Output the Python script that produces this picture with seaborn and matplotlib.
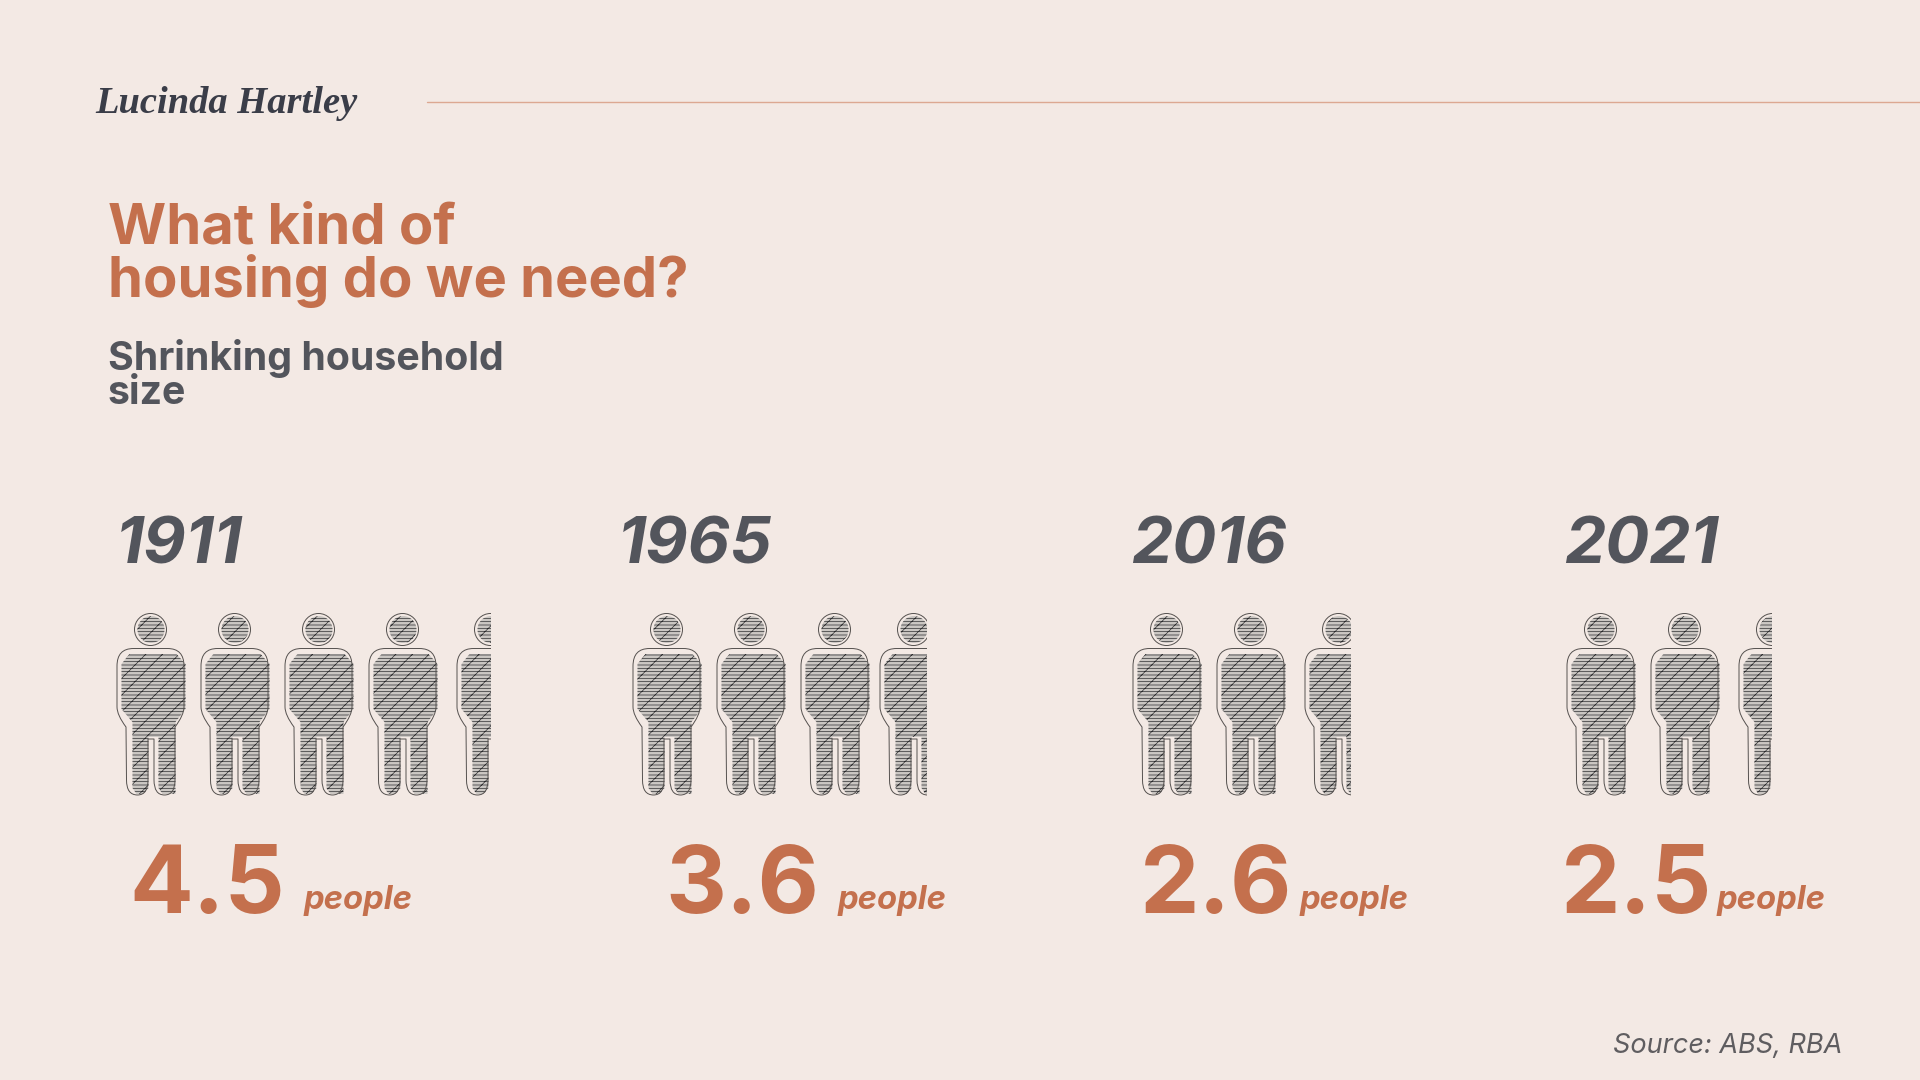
"""Shrinking household size pictogram slide."""

import matplotlib
matplotlib.use("Agg")

import matplotlib.pyplot as plt
import numpy as np
import pandas as pd
import seaborn as sns
from matplotlib.path import Path

# Data
years = ["1911", "1965", "2016", "2021"]
household_size = [4.5, 3.6, 2.6, 2.5]
unit_label = "people"
logo_text = "Lucinda Hartley"
title_text = "What kind of\nhousing do we need?"
subtitle_text = "Shrinking household\nsize"
source_text = "Source: ABS, RBA"

# Colours
BG = "#f3e9e4"
ACCENT = "#c4704d"
SLATE = "#53555c"
INK = "#3a3d48"
RULE = "#dca892"

# Layout, in pixels of the 1920x1080 canvas
W, H = 1920, 1080
PITCH = 84
PERSON_H = 183
PANEL_TOP, PANEL_BOTTOM = 600, 807
first_left = [117, 633, 1133, 1567]   # outline left edge of first person
clip_right = [491, 927, 1351, 1772]   # where the partial person is cut
partial_shift = [4, -5, 4, 4]         # partial person sits off the regular pitch
year_x = [116, 618, 1131, 1564]
value_x = [129, 665, 1140, 1561]
unit_x = [304, 838, 1300, 1717]

sns.set_theme(style="white", rc={
    "figure.facecolor": BG,
    "savefig.facecolor": BG,
    "hatch.linewidth": 0.5,
})
plt.rcParams["font.family"] = ["Inter", "DejaVu Sans"]


def curve(verts, codes, ctrl, end):
    verts += [ctrl, end]
    codes += [Path.CURVE3, Path.CURVE3]


def circle(cx, cy, r):
    k = 0.5523 * r
    v = [(cx + r, cy), (cx + r, cy + k), (cx + k, cy + r), (cx, cy + r),
         (cx - k, cy + r), (cx - r, cy + k), (cx - r, cy), (cx - r, cy - k),
         (cx - k, cy - r), (cx, cy - r), (cx + k, cy - r), (cx + r, cy - k),
         (cx + r, cy), (cx + r, cy)]
    c = [Path.MOVETO] + [Path.CURVE4] * 12 + [Path.CLOSEPOLY]
    return v, c


def to_marker(verts):
    # top-down pixels around the person's middle -> y up marker coordinates
    a = np.array(verts, dtype=float)
    a[:, 1] = PERSON_H / 2 - a[:, 1]
    return a


def outline_path():
    hv, hc = circle(0, 17.5, 16)
    v = [(-17, 36.5)]
    c = [Path.MOVETO]
    v.append((17, 36.5)); c.append(Path.LINETO)
    curve(v, c, (33.5, 36.5), (33.5, 54))
    v.append((33.5, 95)); c.append(Path.LINETO)
    curve(v, c, (33.5, 103), (24.5, 115))
    v.append((24.5, 168)); c.append(Path.LINETO)
    curve(v, c, (24.5, 183), (14, 183))
    curve(v, c, (3.5, 183), (3.5, 168))
    v.append((3.5, 127)); c.append(Path.LINETO)
    v.append((-2.5, 127)); c.append(Path.LINETO)
    v.append((-2.5, 168)); c.append(Path.LINETO)
    curve(v, c, (-2.5, 183), (-13, 183))
    curve(v, c, (-24, 183), (-24, 168))
    v.append((-24.5, 115)); c.append(Path.LINETO)
    curve(v, c, (-33.5, 103), (-33.5, 95))
    v.append((-33.5, 54)); c.append(Path.LINETO)
    curve(v, c, (-33.5, 36.5), (-17, 36.5))
    v.append((-17, 36.5)); c.append(Path.CLOSEPOLY)
    return Path(to_marker(hv + v), hc + c)


def shade_path():
    hv, hc = circle(0.5, 17.5, 13.5)
    shapes = [
        [(-21, 42), (26, 42), (35, 52), (35, 97), (25, 110), (25, 125), (-18, 125), (-18, 110),
         (-29, 97), (-29, 52)],
        [(-18, 125), (-2, 125), (-2, 176), (-7, 182), (-14, 182), (-18, 176)],
        [(8, 125), (25, 125), (25, 182), (12, 182), (8, 176)],
    ]
    v, c = [], []
    for shape in shapes:
        v += shape + [shape[0]]
        c += [Path.MOVETO] + [Path.LINETO] * (len(shape) - 1) + [Path.CLOSEPOLY]
    # keep the marker scale equal to the outline: bottom reaches the same edge
    v += [(0, 183), (0, 183)]
    c += [Path.MOVETO, Path.LINETO]
    return Path(to_marker(hv + v), hc + c)


person_outline = outline_path()
person_shade = shade_path()
marker_size = (PERSON_H * 72 / 100) ** 2

fig = plt.figure(figsize=(W / 100, H / 100), dpi=100)

# full canvas axes in pixels for the text and the rule
bg = fig.add_axes([0, 0, 1, 1], facecolor=BG)
bg.set_xlim(0, W)
bg.set_ylim(H, 0)
bg.axis("off")
bg.plot([427, W], [101.7, 101.7], color=RULE, linewidth=1)

bg.text(95, 113, logo_text, family=["Liberation Serif"], style="italic", fontweight="bold",
        fontsize=27.7, color=INK, va="baseline")
for y, line in zip([243, 297], title_text.split("\n")):
    bg.text(108, y, line, fontsize=40.4, fontweight="bold", color=ACCENT, va="baseline")
for y, line in zip([370, 404], subtitle_text.split("\n")):
    bg.text(108, y, line, fontsize=28.3, fontweight="bold", color=SLATE, va="baseline")
bg.text(1728, 1053, source_text, fontsize=19.5, style="italic", color="#5f5d60",
        va="baseline", ha="center")

for i, (year, value) in enumerate(zip(years, household_size)):
    bg.text(year_x[i], 564, year, fontsize=47, fontweight="bold", style="italic",
            color=SLATE, va="baseline")
    bg.text(value_x[i], 913, f"{value:.1f}", fontsize=68, fontweight="bold",
            color=ACCENT, va="baseline")
    bg.text(unit_x[i], 909, unit_label, fontsize=23.6, fontweight="bold", style="italic",
            color=ACCENT, va="baseline")

    # one small axes per year, x in "people", the cut comes from the axes edge
    slot_left = first_left[i] + 33.5 - PITCH / 2
    panel = fig.add_axes([slot_left / W, 1 - PANEL_BOTTOM / H,
                          (clip_right[i] - slot_left) / W, (PANEL_BOTTOM - PANEL_TOP) / H])
    whole = int(np.floor(value))
    slots = np.arange(whole + 1) + 0.5
    slots[-1] += partial_shift[i] / PITCH
    people = pd.DataFrame({"slot": slots, "row": 0.0})

    sns.scatterplot(data=people, x="slot", y="row", marker=person_shade, s=marker_size,
                    linewidth=0, legend=False, ax=panel)
    shade = panel.collections[-1]
    shade.set_facecolor("#cbc7c3")
    shade.set_edgecolor("#2c2c2e")
    shade.set_hatch("//-----")

    sns.scatterplot(data=people, x="slot", y="row", marker=person_outline, s=marker_size,
                    linewidth=0.7, legend=False, ax=panel)
    line = panel.collections[-1]
    line.set_facecolor("none")
    line.set_edgecolor("#55514f")

    panel.set_xlim(0, (clip_right[i] - slot_left) / PITCH)
    panel.set_ylim(-1, 1)
    panel.patch.set_alpha(0)
    panel.axis("off")

fig.savefig("out.png", dpi=100, facecolor=BG)
plt.close(fig)
